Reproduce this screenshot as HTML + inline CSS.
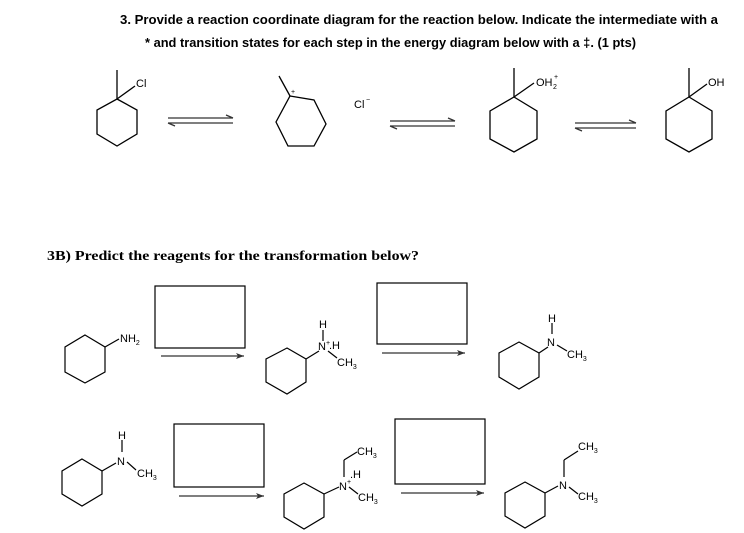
<!DOCTYPE html>
<html><head><meta charset="utf-8"><style>
body{margin:0;background:#fff;}
svg{display:block;}
text{font-family:"Liberation Sans",sans-serif;fill:#000;}
.a{font-size:11px;}
.s{font-size:7px;}
</style></head><body>
<svg width="744" height="533" viewBox="0 0 744 533" xmlns="http://www.w3.org/2000/svg">
<defs>
<marker id="ah" markerWidth="8" markerHeight="6" refX="8" refY="3" orient="auto" markerUnits="userSpaceOnUse">
<path d="M0,0 L8,3 L0,6 L2,3 Z" fill="#333"/></marker>
</defs>
<text x="120" y="24" font-size="12.5" font-weight="bold" textLength="598" lengthAdjust="spacingAndGlyphs">3.  Provide a reaction coordinate diagram for the reaction below.  Indicate the intermediate with a</text>
<text x="145" y="47" font-size="12.5" font-weight="bold" textLength="491" lengthAdjust="spacingAndGlyphs">* and transition states for each step in the energy diagram below with a ‡.  (1 pts)</text>
<text x="47" y="260" font-family="Liberation Serif" style="font-family:'Liberation Serif',serif" font-size="14" font-weight="bold" textLength="372" lengthAdjust="spacingAndGlyphs">3B) Predict the reagents for the transformation below?</text>

<g stroke="#000" stroke-width="1.3" fill="none">
<polygon points="117,99 137,110 137,134 117,146 97,134 97,110"/>
<line x1="117" y1="99" x2="117" y2="70"/><line x1="117" y1="99" x2="135" y2="86"/>
<polygon points="290,96 314,100 326,124 314,146 288,146 276,122"/>
<line x1="279" y1="76" x2="290" y2="96"/>
<polygon points="514,97 537,111 537,139 514,152 490,139 490,111"/>
<line x1="514" y1="97" x2="514" y2="68"/><line x1="514" y1="97" x2="534" y2="83"/>
<polygon points="689,97 712,111 712,139 689,152 666,139 666,111"/>
<line x1="689" y1="97" x2="689" y2="68"/><line x1="689" y1="97" x2="707" y2="84"/>
</g>
<g stroke="#333" stroke-width="1.3" fill="none">
<path d="M168,118 H233 M226,115 L233,118"/><path d="M168,123 H233 M168,123 L175,126"/>
<path d="M390,121 H455 M448,118 L455,121"/><path d="M390,126 H455 M390,126 L397,129"/>
<path d="M575,123 H636 M629,120 L636,123"/><path d="M575,128 H636 M575,128 L582,131"/>
</g>
<text class="a" x="136" y="87">Cl</text>
<text class="s" x="291" y="94">+</text>
<text class="a" x="354" y="108">Cl</text><text class="s" x="366" y="102">−</text>
<text class="a" x="536" y="86">OH</text><text class="s" x="553" y="89">2</text><text class="s" x="554" y="79">+</text>
<text class="a" x="708" y="86">OH</text>

<g stroke="#000" stroke-width="1.2" fill="none">
<polygon points="85,335 105,347 105,372 85,383 65,372 65,347"/>
<line x1="105" y1="347" x2="119" y2="339"/>
<rect x="155" y="286" width="90" height="62"/>
<polygon points="287,348 306,359 306,382 287,394 266,382 266,359"/>
<line x1="306" y1="359" x2="319" y2="351"/><line x1="323" y1="330" x2="323" y2="341"/><line x1="328" y1="351" x2="337" y2="358"/>
<rect x="377" y="283" width="90" height="61"/>
<polygon points="519,342 539,353 539,377 519,389 499,377 499,353"/>
<line x1="539" y1="353" x2="548" y2="347"/><line x1="552" y1="323" x2="552" y2="334"/><line x1="557" y1="345" x2="567" y2="351"/>
<polygon points="82,459 102,471 102,494 82,506 62,494 62,471"/>
<line x1="102" y1="471" x2="116" y2="463"/><line x1="122" y1="440" x2="122" y2="452"/><line x1="127" y1="462" x2="136" y2="470"/>
<rect x="174" y="424" width="90" height="63"/>
<polygon points="304,483 324,494 324,517 304,529 284,517 284,494"/>
<line x1="324" y1="494" x2="339" y2="487"/><line x1="344" y1="477" x2="344" y2="460"/><line x1="344" y1="460" x2="357" y2="452"/><line x1="349" y1="487" x2="358" y2="494"/>
<rect x="395" y="419" width="90" height="65"/>
<polygon points="525,482 545,493 545,516 525,528 505,516 505,493"/>
<line x1="545" y1="493" x2="558" y2="486"/><line x1="564" y1="477" x2="564" y2="460"/><line x1="564" y1="460" x2="578" y2="451"/><line x1="569" y1="487" x2="578" y2="494"/>
</g>
<g stroke="#333" stroke-width="1.2">
<line x1="161" y1="356" x2="244" y2="356" marker-end="url(#ah)"/>
<line x1="382" y1="353" x2="465" y2="353" marker-end="url(#ah)"/>
<line x1="179" y1="496" x2="264" y2="496" marker-end="url(#ah)"/>
<line x1="401" y1="493" x2="484" y2="493" marker-end="url(#ah)"/>
</g>
<text class="a" x="120" y="342">NH<tspan class="s" dy="3">2</tspan></text>
<text class="a" x="319" y="328">H</text>
<text class="a" x="318" y="350">N</text><text class="s" x="326" y="345">+</text><text class="a" x="329" y="349">.H</text>
<text class="a" x="337" y="366">CH<tspan class="s" dy="3">3</tspan></text>
<text class="a" x="548" y="322">H</text>
<text class="a" x="547" y="346">N</text>
<text class="a" x="567" y="358">CH<tspan class="s" dy="3">3</tspan></text>
<text class="a" x="118" y="439">H</text>
<text class="a" x="117" y="465">N</text>
<text class="a" x="137" y="477">CH<tspan class="s" dy="3">3</tspan></text>
<text class="a" x="357" y="455">CH<tspan class="s" dy="3">3</tspan></text>
<text class="a" x="339" y="490">N</text><text class="s" x="347" y="484">+</text><text class="a" x="350" y="478">.H</text>
<text class="a" x="358" y="501">CH<tspan class="s" dy="3">3</tspan></text>
<text class="a" x="578" y="450">CH<tspan class="s" dy="3">3</tspan></text>
<text class="a" x="559" y="489">N</text>
<text class="a" x="578" y="500">CH<tspan class="s" dy="3">3</tspan></text>
</svg>
</body></html>
